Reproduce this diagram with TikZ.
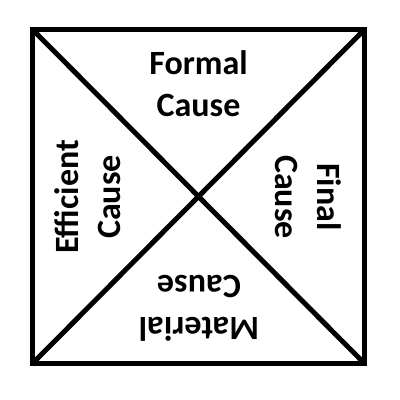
\documentclass[tikz,border=0pt]{standalone}
\usepackage{fontspec}
\setmainfont{Carlito}
\begin{document}
\begin{tikzpicture}[x=1pt,y=1pt,
  frame/.style={line width=5pt,line join=miter},
  lbl/.style={inner sep=0pt,align=center,font={\fontsize{34}{41.7}\selectfont\bfseries}}]
\useasboundingbox (0,0) rectangle (400,400);
\coordinate (tl) at (32.5,370.5);
\coordinate (tr) at (364.5,370.5);
\coordinate (br) at (364.5,36.5);
\coordinate (bl) at (32.5,36.5);
\draw[frame] (tl) -- (tr) -- (br) -- (bl) -- cycle;
\draw[frame] (tl) -- (br);
\draw[frame] (tr) -- (bl);
\node[lbl] (formal) at (198.5,316) {Formal\\Cause};
\node[lbl,rotate=90] (efficient) at (87.5,203) {Efficient\\Cause};
\node[lbl,rotate=-90] (final) at (308,203) {Final\\Cause};
\node[lbl,rotate=180] (material) at (199,92) {Material\\Cause};
\end{tikzpicture}
\end{document}
